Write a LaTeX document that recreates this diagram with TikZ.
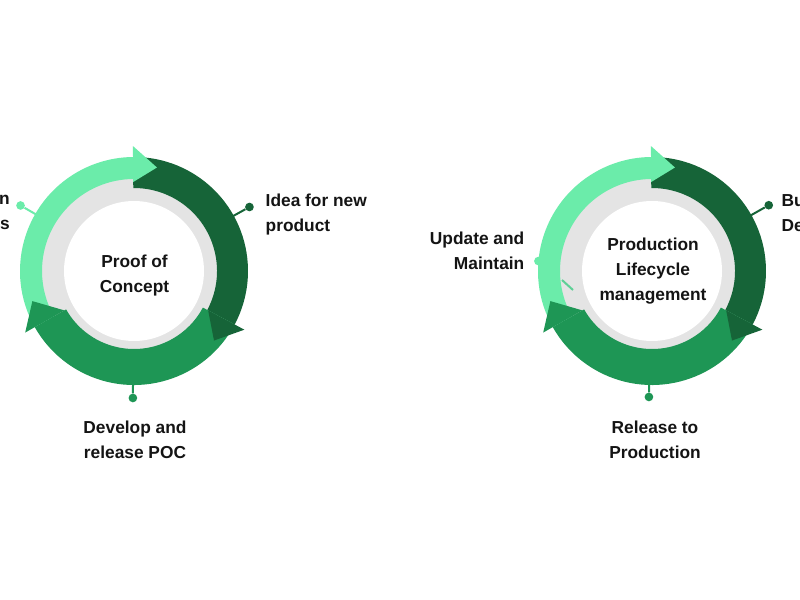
\documentclass[tikz,border=0pt]{standalone}
\usepackage{fontspec}
\setmainfont{Liberation Sans}
\definecolor{ringlight}{HTML}{6BECAA}
\definecolor{ringdark}{HTML}{166438}
\definecolor{ringmid}{HTML}{1E9655}
\definecolor{ringgray}{HTML}{E4E4E4}
\definecolor{inktext}{HTML}{141414}

\begin{document}
\begin{tikzpicture}[x=0.75pt,y=0.75pt]
    \tikzstyle{every node}=[font=\fontsize{13}{18.75}\selectfont\bfseries, text=inktext]
    \tikzstyle{dot}=[circle, inner sep=0pt, minimum size=6.5pt]
    \tikzstyle{conn}=[line width=1.5pt]

    \useasboundingbox (0,0) rectangle (800,600);
    \clip (0,0) rectangle (800,600);
    \fill[white] (0,0) rectangle (800,600);

    \coordinate (L) at (134,329);
    \coordinate (R) at (652,329);

    % dots and leader lines (the rings cover their inner part)
    \node[dot, fill=ringlight] (Leval) at ([shift={(150:131)}]L) {};
    \node[dot, fill=ringdark] (Lidea) at ([shift={(29:132)}]L) {};
    \node[dot, fill=ringmid] (Ldev) at ([shift={(-90.5:127)}]L) {};
    \node[dot, fill=ringlight] (Rupd) at ([shift={(175:114)}]R) {};
    \node[dot, fill=ringdark] (Rbuild) at ([shift={(29.4:134)}]R) {};
    \node[dot, fill=ringmid] (Rrel) at ([shift={(88.6:-126)}]R) {};
    \draw[conn, ringlight] (L) -- (Leval);
    \draw[conn, ringdark] (L) -- (Lidea);
    \draw[conn, ringmid] (L) -- (Ldev);
    \draw[conn, ringdark] (R) -- (Rbuild);
    \draw[conn, ringmid] (R) -- (Rrel);

    % discs, bands, then heads on top
    \foreach \c in {L,R} {
      \fill[ringgray] (\c) circle[radius=93];
      \fill[white] (\c) circle[radius=70];
      \foreach \a/\b/\ri/\col in {209.5/90.5/92/ringlight, 90.5/-28/83/ringdark, -28/-150.5/78/ringmid}
        \fill[\col] ([shift={(\a:114)}]\c) arc[start angle=\a, end angle=\b, radius=114]
          -- ([shift={(\b:\ri)}]\c) arc[start angle=\b, end angle=\a, radius=\ri] -- cycle;
      \foreach \b/\rb/\col in {90.5/89/ringlight, -28/84/ringdark, -150.5/80/ringmid}
        \fill[\col] ([shift={(\b:\rb)}]\c) -- ([shift={(\b:125)}]\c)
          -- ([shift={(\b-13:106)}]\c) -- cycle;
    }

    \coordinate (Rstub-a) at (562,320);
    \coordinate (Rstub-b) at (573,310);
    \draw[conn, ringlight!88!black] (Rstub-a) -- (Rstub-b);

    % texts
    \node[anchor=east, align=right] (Levaltext) at (14.5,387) {Evaluation\\of progress};
    \node[anchor=west, align=left] (Lideatext) at (261,385) {Idea for new\\product};
    \node[align=center] (Lcenter) at (134.5,324) {Proof of\\Concept};
    \node[align=center] (Ldevtext) at (135,160) {Develop and\\release POC};

    \node[anchor=east, align=right] (Rupdtext) at (529,349) {Update and\\Maintain};
    \node[anchor=west, align=left] (Rbuildtext) at (777,385) {Build and\\Deploy};
    \node[align=center] (Rcenter) at (653,329) {Production\\Lifecycle\\management};
    \node[align=center] (Rreltext) at (655,160) {Release to\\Production};
\end{tikzpicture}
\end{document}
